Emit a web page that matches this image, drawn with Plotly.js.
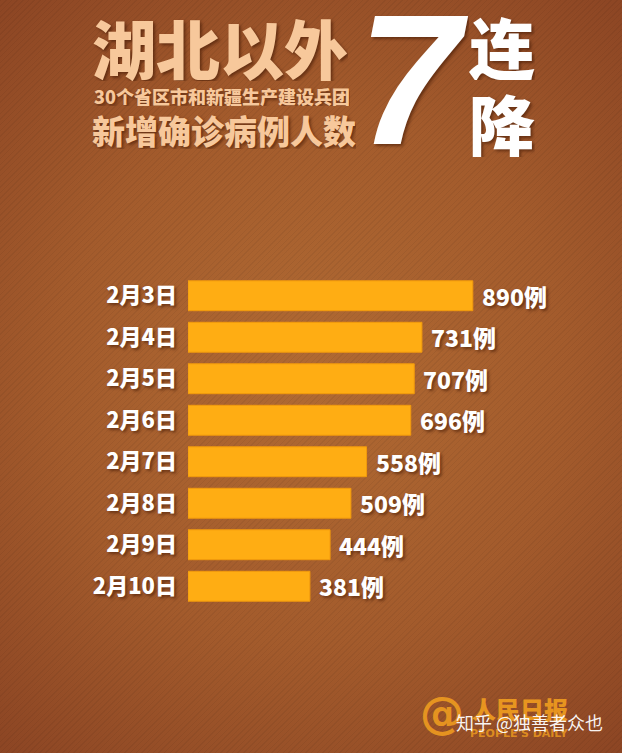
<!DOCTYPE html>
<html>
<head>
<meta charset="utf-8">
<script src="https://cdn.plot.ly/plotly-3.0.1.min.js"></script>
<style>
html,body{margin:0;padding:0;}
body{width:622px;height:753px;overflow:hidden;
background:
 repeating-linear-gradient(135deg, rgba(0,0,0,0.05) 0px, rgba(0,0,0,0.05) 1px, rgba(255,255,255,0.0) 1px, rgba(255,255,255,0.0) 4px),
 radial-gradient(ellipse 75% 65% at 50% 50%, #b06a33 0%, #a35b2c 55%, #8d4624 100%);
}
#chart{width:622px;height:753px;}
</style>
</head>
<body>
<div id="chart"></div>
<script>
// Data
var dates = ["2月3日","2月4日","2月5日","2月6日","2月7日","2月8日","2月9日","2月10日"];
var cases = [890, 731, 707, 696, 558, 509, 444, 381];
var unit = "例";

var W = 622, H = 753;
var L = 188, R = 0, T = 275, B = 146;
var plotW = W - L - R, plotH = H - T - B;
function px(x){ return (x - L) / plotW; }
function py(y){ return (H - B - y) / plotH; }

var cjk = '"Noto Sans CJK SC", "Noto Sans", sans-serif';
var shadow = '2px 2px 3px rgba(60,20,0,0.55)';

var trace = {
  type: 'bar',
  orientation: 'h',
  x: cases,
  y: dates,
  marker: {color: '#ffad13', line: {color: '#f29a0c', width: 1}},
  hoverinfo: 'skip'
};

var annotations = [];
for (var i = 0; i < cases.length; i++) {
  annotations.push({
    x: cases[i], y: dates[i], xref: 'x', yref: 'y',
    text: cases[i] + unit, showarrow: false,
    xanchor: 'left', yanchor: 'middle', xshift: 7,
    font: {family: cjk, size: 23, color: '#ffffff', weight: 900, shadow: shadow}
  });
}

function txt(text, x, y, size, color, anchor, extra) {
  var a = {
    x: px(x), y: py(y), xref: 'paper', yref: 'paper',
    text: text, showarrow: false, xanchor: anchor || 'left', yanchor: 'middle',
    font: {family: cjk, size: size, color: color, weight: 900, shadow: shadow}
  };
  if (extra) for (var k in extra) a[k] = extra[k];
  return a;
}

annotations.push(txt('湖北以外', 90, 46, 64, '#f7c89b', 'left', {height: 70}));
annotations.push(txt('30个省区市和新疆生产建设兵团', 92, 96, 18, '#f7c89b', 'left', {height: 20}));
annotations.push(txt('新增确诊病例人数', 90, 130, 33, '#f7c89b', 'left', {height: 38}));
annotations.push(txt('<i>7</i>', 413, 80, 185, '#ffffff', 'center',
  {height: 150, font: {family: '"Liberation Sans", Arial, sans-serif', size: 185, color: '#ffffff', weight: 900, shadow: shadow}}));
annotations.push(txt('连', 502, 45, 66, '#ffffff', 'center', {height: 70}));
annotations.push(txt('降', 502, 122, 66, '#ffffff', 'center', {height: 70}));

// Watermark / logo
annotations.push(txt('@', 442, 712, 44, 'rgba(255,170,30,0.75)', 'center',
  {font: {family: '"DejaVu Sans", sans-serif', size: 44, color: 'rgba(255,170,30,0.75)', weight: 700}}));
annotations.push(txt('人民日报', 470, 708, 24, 'rgba(255,170,30,0.8)', 'left',
  {font: {family: cjk, size: 24, color: 'rgba(255,170,30,0.8)', weight: 900}}));
annotations.push(txt("PEOPLE'S DAILY", 468, 733, 11, 'rgba(255,170,30,0.7)', 'left',
  {font: {family: '"DejaVu Sans", sans-serif', size: 11, color: 'rgba(255,170,30,0.7)', weight: 700}}));
annotations.push(txt('知乎 @独善者众也', 454, 722, 18, '#ffffff', 'left',
  {font: {family: cjk, size: 18, color: 'rgba(255,255,255,0.95)', weight: 400}}));

var layout = {
  width: W, height: H,
  margin: {l: L, r: R, t: T, b: B, pad: 0},
  paper_bgcolor: 'rgba(0,0,0,0)',
  plot_bgcolor: 'rgba(0,0,0,0)',
  showlegend: false,
  bargap: 0.28,
  xaxis: {range: [0, plotW / 0.32], visible: false, fixedrange: true},
  yaxis: {
    type: 'category', autorange: 'reversed',
    showgrid: false, zeroline: false, showline: false,
    ticks: '', ticklabelstandoff: 10,
    tickfont: {family: cjk, size: 22, color: '#ffffff', weight: 900, shadow: shadow},
    fixedrange: true
  },
  annotations: annotations
};

Plotly.newPlot('chart', [trace], layout, {staticPlot: true, displayModeBar: false});
</script>
</body>
</html>
